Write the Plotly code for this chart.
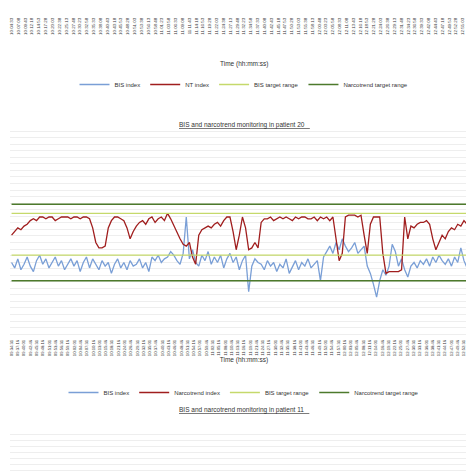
import plotly.graph_objects as go
from datetime import datetime, timedelta

nt_index = [40,42,44,43,45,
 46,48,49,48,50,50,49,50,50,48,49,50,50,50,49,50,50,49,50,50,49,
 44,36,33,33,34, 44,48,50,50,49,48, 44,38,42,
 45,47,48,46,49,50,47,49,50,48,52,49, 45,42,38,35,34,36, 28,24,
 40,43,44,45,44,46,47,45,48,50, 50,42,32,40,50,44,32,33,36,33,
 47,49,49,50,48,49,50,49,50,49,48,50,49,50,50,49,49,50,48,50,49,50,48,
 50,38,26,30, 50,51,51,51,50,51, 40,30, 46,50,50,50,
 30,19,20,20,20,20,21, 50, 38, 45,44,46,47,47,48,46, 38,32,
 36,40,38,42,44,43,46,45,48,46,50,47,48]
bis_index = [25,22,27,21,24,28,23,20,26,29,24,27,22,25,28,23,26,21,24,27,
 23,26,20,25,28,22,27,24,21,26,23,25,19,24,27,22,25,21,26,23,
 24,27,22,25,20,28,26,29,25,27,28,31,29,26,24,30,50,27,32,25,
 23,29,26,31,24,28,25,29,22,27,30,25,28,21,26,29,9,23,27,25,
 24,21,26,23,25,20,24,22,27,19,23,26,21,25,23,27,22,24,26,15,
 28,31,34,30,36,32,38,34,31,33,36,30,32,34,23,19,13,6,15,21,
 18,23,35,31,23,27,21,17,23,25,22,26,24,27,23,28,25,29,26,24,
 27,23,28,25,33,26,22,27,24,21]
bis_target = [29, 52]
nt_target = [15, 57]

t0 = datetime(2000,1,1,9,34,31)
bottom_labels = [(t0 + timedelta(seconds=165*k)).strftime("%H:%M:%S") for k in range(75)]
t1 = datetime(2000,1,1,10,4,33)
top_labels = [(t1 + timedelta(seconds=155*k)).strftime("%H:%M:%S") for k in range(69)]

N = len(nt_index)
xs = list(range(N))
BLUE, RED, LG, DG = "#7a9fd6", "#a01e1e", "#c5d96b", "#4d7a2c"
F = "Liberation Sans, Arial"

fig = go.Figure()
fig.add_trace(go.Scatter(x=xs, y=bis_index, mode="lines", line=dict(color=BLUE, width=1.3), name="BIS index"))
fig.add_trace(go.Scatter(x=xs, y=nt_index, mode="lines", line=dict(color=RED, width=1.3), name="Narcotrend index"))
for i, v in enumerate(bis_target):
    fig.add_trace(go.Scatter(x=[0, N-1], y=[v, v], mode="lines", line=dict(color=LG, width=1.3),
                             name="BIS target range", showlegend=(i == 0)))
for i, v in enumerate(nt_target):
    fig.add_trace(go.Scatter(x=[0, N-1], y=[v, v], mode="lines", line=dict(color=DG, width=1.5),
                             name="Narcotrend target range", showlegend=(i == 0)))
for nm, c in [("BIS index", BLUE), ("NT index", RED), ("BIS target range", LG), ("Narcotrend target range", DG)]:
    fig.add_trace(go.Scatter(x=[None], y=[None], mode="lines", line=dict(color=c, width=1.3),
                             name=nm, legend="legend2", xaxis="x2", yaxis="y2"))
fig.add_trace(go.Scatter(x=[None], y=[None], xaxis="x3", yaxis="y3", showlegend=False))

bt = [k*(N-1)/74 for k in range(75)]
tt = [k*(N-1)/68 for k in range(69)]
H = 474
fig.update_layout(
    width=474, height=474, margin=dict(l=2, r=4, t=0, b=0),
    paper_bgcolor="white", plot_bgcolor="white", font=dict(family=F, size=6, color="#333"),
    xaxis=dict(range=[-0.5, N-0.5], tickvals=bt, ticktext=bottom_labels, tickangle=-90,
               tickfont=dict(size=4.2), showgrid=False, zeroline=False, ticks="",
               title=dict(text="Time (hh:mm:ss)", font=dict(size=6.5), standoff=2)),
    yaxis=dict(domain=[1-330/H, 1-118/H], range=[-16.5, 100], dtick=3.6, showgrid=True,
               gridcolor="#eeeeee", showticklabels=False, zeroline=False),
    xaxis2=dict(range=[-0.5, N-0.5], tickvals=tt, ticktext=top_labels, tickangle=-90,
                tickfont=dict(size=4.4), showgrid=False, zeroline=False, ticks="", anchor="y2", side="bottom"),
    yaxis2=dict(domain=[1-8/H, 1], showticklabels=False, showgrid=False, zeroline=False),
    xaxis3=dict(anchor="y3", showticklabels=False, showgrid=False, zeroline=False),
    yaxis3=dict(domain=[0, 1-420/H], range=[0, 10], dtick=1.1, gridcolor="#eeeeee",
                showticklabels=False, zeroline=False),
    legend=dict(orientation="h", x=0.5, xanchor="center", y=1-370/H, yanchor="top",
                font=dict(size=6), itemwidth=30, tracegroupgap=0),
    legend2=dict(orientation="h", x=0.5, xanchor="center", y=1-62/H, yanchor="top",
                 font=dict(size=6), itemwidth=30),
    annotations=[
        dict(text="Time (hh:mm:ss)", x=0.5, y=1-50/H, xref="paper", yref="paper", showarrow=False,
             font=dict(size=6.5)),
        dict(text="<u>BIS and narcotrend monitoring in patient 20   </u>", x=0.5, y=1-111/H,
             xref="paper", yref="paper", showarrow=False, font=dict(size=6.5)),
        dict(text="<u>BIS and narcotrend monitoring in patient 11   </u>", x=0.5, y=1-408/H,
             xref="paper", yref="paper", showarrow=False, font=dict(size=6.5)),
    ],
)
fig.write_html("out.html")
